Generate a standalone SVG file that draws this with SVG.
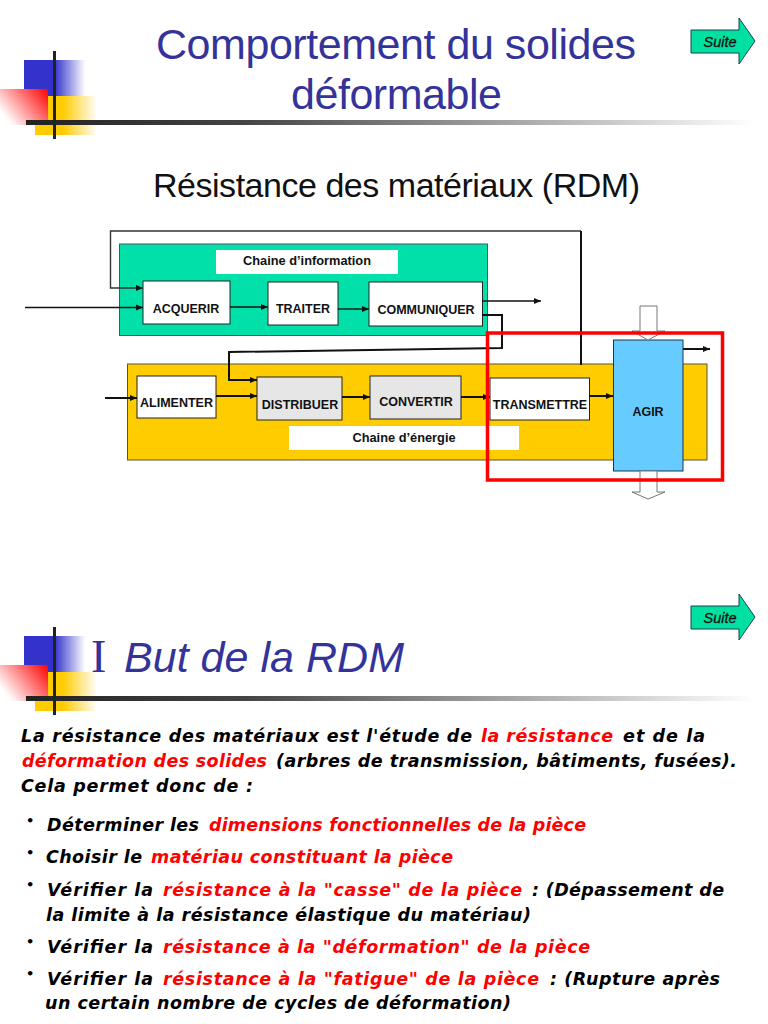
<svg xmlns="http://www.w3.org/2000/svg" width="768" height="1024" viewBox="0 0 768 1024">
<style>
.title{font-family:"Liberation Sans",Arial,sans-serif;fill:#333399;font-size:43px}
.sub{font-family:"Liberation Sans",Arial,sans-serif;fill:#111;font-size:34px}
.h2{font-family:"Liberation Sans",Arial,sans-serif;font-style:italic;fill:#333399;font-size:43px}
.ser{font-family:"Liberation Serif",serif;fill:#333399;font-size:46px}
.b{font-family:"DejaVu Sans",sans-serif;font-weight:bold;font-style:oblique;font-size:17.5px;fill:#000}
.bu{font-family:"DejaVu Sans",sans-serif;font-weight:bold;font-size:13px;fill:#000}
.r{fill:#f00}
.n{font-family:"Liberation Sans",Arial,sans-serif;font-weight:bold;font-size:12.5px;fill:#111;text-anchor:middle}
.cap{font-size:12.8px}
.box{fill:#fff;stroke:#222;stroke-width:1}
.gray{fill:#e6e6e6}
.c{fill:none;stroke:#111;stroke-width:1.4}
.t{stroke-width:2}
.hollow{fill:#fff;stroke:#777;stroke-width:1}
.suite{fill:#00e0a0;stroke:#145;stroke-width:1}
.st{font-family:"Liberation Sans",Arial,sans-serif;font-style:italic;font-size:14.5px;fill:#111;stroke:#111;stroke-width:.3;text-anchor:middle}
</style>
<defs>
<linearGradient id="gb" x1="0" x2="1" y1="0" y2="0"><stop offset="0.5" stop-color="#3333cc"/><stop offset="1" stop-color="#3333cc" stop-opacity="0"/></linearGradient>
<linearGradient id="gy" x1="0" x2="1" y1="0" y2="0"><stop offset="0.45" stop-color="#ffcc00"/><stop offset="1" stop-color="#ffcc00" stop-opacity="0"/></linearGradient>
<linearGradient id="gr" x1="1" x2="0" y1="0" y2="0.6"><stop offset="0" stop-color="#ff0000"/><stop offset="1" stop-color="#ff0000" stop-opacity="0"/></linearGradient>
<linearGradient id="gl" gradientUnits="userSpaceOnUse" x1="26" x2="755" y1="0" y2="0"><stop offset="0" stop-color="#222"/><stop offset="0.3" stop-color="#444"/><stop offset="1" stop-color="#444" stop-opacity="0"/></linearGradient>
<marker id="a" markerUnits="userSpaceOnUse" markerWidth="8" markerHeight="8" refX="7" refY="4" orient="auto"><path d="M0 1L7 4L0 7Z" fill="#111"/></marker>
<g id="logo">
<rect x="24" y="60" width="61" height="36" fill="url(#gb)"/>
<rect x="35" y="96" width="62" height="39" fill="url(#gy)"/>
<rect x="0" y="89" width="48" height="36" fill="#fff"/>
<rect x="0" y="89" width="48" height="36" fill="url(#gr)"/>
<rect x="26" y="120" width="730" height="5" fill="url(#gl)"/>
<rect x="53" y="51" width="3" height="88" fill="#222"/>
</g>
<g id="suiteBtn">
<path class="suite" d="M691 30H739V18L755 41L739 64V53H691Z"/>
<text class="st" x="720" y="47">Suite</text>
</g>
</defs>

<g id="header1">
<use href="#logo"/>
<text class="title" x="156" y="59" textLength="480">Comportement du solides</text>
<text class="title" x="291" y="109" textLength="211">déformable</text>
<use href="#suiteBtn"/>
<text class="sub" x="153" y="197" textLength="487">Résistance des matériaux (RDM)</text>
</g>

<g id="chaine-information">
<rect x="119.5" y="244" width="368" height="91.5" fill="#00e0a8" stroke="#456" stroke-width="1"/>
<rect x="216" y="250" width="182" height="24" fill="#fff"/>
<text class="n cap" x="307" y="265">Chaine d’information</text>
</g>
<g id="chaine-energie">
<rect x="127.5" y="364" width="579.5" height="96" fill="#ffcc00" stroke="#553" stroke-width="1"/>
<rect x="289" y="426" width="230" height="24" fill="#fff"/>
<text class="n cap" x="404" y="442">Chaine d’énergie</text>
</g>

<g id="acquerir"><rect class="box" x="143" y="281" width="87" height="43"/><text class="n" x="186" y="313">ACQUERIR</text></g>
<g id="traiter"><rect class="box" x="268" y="282" width="70" height="43"/><text class="n" x="303" y="313">TRAITER</text></g>
<g id="communiquer"><rect class="box" x="369" y="282" width="113.5" height="44"/><text class="n" x="426" y="314">COMMUNIQUER</text></g>
<g id="alimenter"><rect class="box" x="137" y="376" width="79" height="42"/><text class="n" x="176.5" y="407">ALIMENTER</text></g>
<g id="distribuer"><rect class="box gray" x="257" y="377" width="85" height="43"/><text class="n" x="300" y="409">DISTRIBUER</text></g>
<g id="convertir"><rect class="box gray" x="370" y="376" width="91" height="43"/><text class="n" x="416" y="406">CONVERTIR</text></g>
<g id="transmettre"><rect class="box" x="490" y="378" width="99.5" height="42"/><text class="n" x="540" y="409">TRANSMETTRE</text></g>
<g id="agir"><rect x="613.5" y="340" width="69.5" height="131" fill="#66ccff" stroke="#234" stroke-width="1"/><text class="n" x="648" y="416">AGIR</text></g>

<g id="connectors">
<path class="c" d="M581 231H110.5V288H143" style="stroke:#333" marker-end="url(#a)"/>
<path class="c t" d="M581 365V231"/>
<path class="c" d="M25 307.5H143" marker-end="url(#a)"/>
<path class="c" d="M230 307H268" marker-end="url(#a)"/>
<path class="c" d="M338 309H369" marker-end="url(#a)"/>
<path class="c" d="M482 301H541" marker-end="url(#a)"/>
<path class="c t" d="M482 315H502V348L229 352V380H257" marker-end="url(#a)"/>
<path class="c t" d="M105 398H137" marker-end="url(#a)"/>
<path class="c t" d="M216 396H257" marker-end="url(#a)"/>
<path class="c t" d="M342 397H370" marker-end="url(#a)"/>
<path class="c t" d="M461 397H490" marker-end="url(#a)"/>
<path class="c t" d="M589 396H613" marker-end="url(#a)"/>
<path class="c t" d="M683 349H710" marker-end="url(#a)"/>
<path class="hollow" d="M640 306H657V331H665L648 340L632 331H640Z"/>
<path class="hollow" d="M640 471H657V492H665L648 499L632 492H640Z"/>
</g>
<rect id="zone" x="487.5" y="333" width="235" height="147" fill="none" stroke="#f00" stroke-width="3.5"/>

<g id="header2">
<use href="#logo" y="576"/>
<text class="ser" x="91" y="672">I</text>
<text class="h2" x="124" y="672" textLength="280">But de la RDM</text>
<use href="#suiteBtn" y="576"/>
</g>

<g id="body">
<text class="b" x="21" y="742" textLength="451">La résistance des matériaux est l'étude de</text>
<text class="b r" x="481" y="742" textLength="132">la résistance</text>
<text class="b" x="623" y="742" textLength="82">et de la</text>
<text class="b r" x="22" y="767" textLength="245">déformation des solides</text>
<text class="b" x="276" y="767" textLength="461">(arbres de transmission, bâtiments, fusées).</text>
<text class="b" x="21" y="792" textLength="232">Cela permet donc de :</text>
<text class="bu" x="26" y="824.5">•</text>
<text class="b" x="47" y="831" textLength="152">Déterminer les</text>
<text class="b r" x="209" y="831" textLength="377">dimensions fonctionnelles de la pièce</text>
<text class="bu" x="26" y="856.5">•</text>
<text class="b" x="46" y="863" textLength="96">Choisir le</text>
<text class="b r" x="151" y="863" textLength="302">matériau constituant la pièce</text>
<text class="bu" x="26" y="888.5">•</text>
<text class="b" x="47" y="896" textLength="106">Vérifier la</text>
<text class="b r" x="163" y="896" textLength="359">résistance à la "casse" de la pièce</text>
<text class="b" x="532" y="896" textLength="192">: (Dépassement de</text>
<text class="b" x="46" y="921" textLength="485">la limite à la résistance élastique du matériau)</text>
<text class="bu" x="26" y="945.5">•</text>
<text class="b" x="47" y="953" textLength="106">Vérifier la</text>
<text class="b r" x="163" y="953" textLength="427">résistance à la "déformation" de la pièce</text>
<text class="bu" x="26" y="977.5">•</text>
<text class="b" x="47" y="985" textLength="106">Vérifier la</text>
<text class="b r" x="163" y="985" textLength="376">résistance à la "fatigue" de la pièce</text>
<text class="b" x="550" y="985" textLength="170">: (Rupture après</text>
<text class="b" x="45" y="1009" textLength="466">un certain nombre de cycles de déformation)</text>
</g>
</svg>
